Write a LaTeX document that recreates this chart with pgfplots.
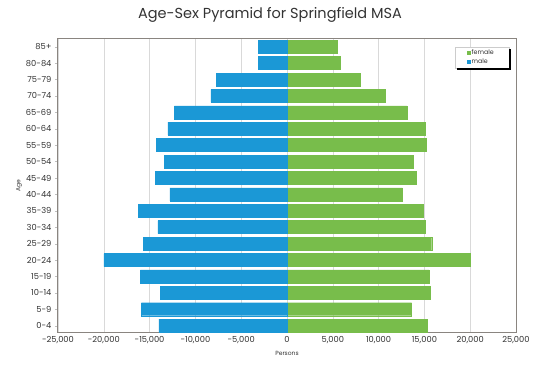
\documentclass[border=0pt]{standalone}
\usepackage{pgfplots}
\pgfplotsset{compat=1.18}
\usepackage{fontspec}
\setmainfont{Poppins}
\definecolor{mblue}{HTML}{1B98D6}
\definecolor{fgreen}{HTML}{78BD4B}
\definecolor{txt}{HTML}{333333}
\definecolor{axgray}{HTML}{8A8580}
\begin{document}
\begin{tikzpicture}
\path[use as bounding box] (-58pt,-34.3pt) rectangle (482pt,332.7pt);
\begin{axis}[
  at={(0,0)}, anchor=south west,
  scale only axis, width=458pt, height=294.7pt,
  xmin=-25000, xmax=25000,
  ymin=-0.43, ymax=17.53,
  xbar, bar width=13pt,
  xtick={-25000,-20000,...,25000},
  ytick={0,...,17},
  yticklabels={0-4,5-9,10-14,15-19,20-24,25-29,30-34,35-39,40-44,45-49,50-54,55-59,60-64,65-69,70-74,75-79,80-84,85+},
  /pgf/number format/.cd, assume math mode=true, 1000 sep={,}, fixed, /pgfplots/.cd,
  scaled x ticks=false,
  xmajorgrids, major grid style={draw=gray!30, line width=0.6pt},
  axis line style={draw=axgray, line width=1pt},
  tick style={draw=gray!50},
  major tick length=3pt,
  xtick style={draw=none},
  ytick pos=left,
  tick label style={font=\fontsize{8.3}{10}\selectfont, text=txt},
  xlabel={Persons}, ylabel={Age},
  xlabel style={font=\fontsize{6}{7}\selectfont, text=txt, yshift=-1pt},
  ylabel style={font=\fontsize{6}{7}\selectfont, text=txt, yshift=-3pt},
  title={Age-Sex Pyramid for Springfield MSA},
  title style={font=\fontsize{14.5}{17}\selectfont, text=txt, yshift=6pt, xshift=-17pt},
  legend style={name=leg, at={(0.9855,0.97)}, anchor=north east, draw=gray!40, fill=white,
    font=\fontsize{6.3}{7}\selectfont, text=txt, inner xsep=0pt, inner ysep=1.8pt,
    legend cell align=left, column sep=0.5pt, row sep=0.3pt},
  legend image code/.code={\path[draw=none,fill=none] (0pt,-2.1pt) rectangle (13pt,2.1pt); \fill[#1,draw=none] (11pt,-2.1pt) rectangle (15pt,2.1pt);},
  legend style={nodes={text width=37pt, inner xsep=0.5pt, inner ysep=1.2pt}},
]
\addplot[fill=fgreen, draw=fgreen!40!white, line width=0.4pt, bar shift=0pt, fgreen] coordinates {
(15300,0) (13600,1) (15600,2) (15500,3) (20000,4) (15800,5) (15100,6) (14900,7)
(12600,8) (14100,9) (13800,10) (15200,11) (15100,12) (13100,13) (10700,14) (8000,15) (5800,16) (5500,17)};
\addlegendentry{female}
\addplot[fill=mblue, draw=mblue!40!white, line width=0.4pt, bar shift=0pt, mblue] coordinates {
(-14000,0) (-15900,1) (-13800,2) (-16000,3) (-20000,4) (-15700,5) (-14100,6) (-16200,7)
(-12800,8) (-14400,9) (-13400,10) (-14300,11) (-13000,12) (-12300,13) (-8300,14) (-7700,15) (-3100,16) (-3100,17)};
\addlegendentry{male}
\end{axis}
\fill[black] ([yshift=-2pt]leg.north east) rectangle ([xshift=1.8pt,yshift=-1.8pt]leg.south east);
\fill[black] ([xshift=2pt]leg.south west) rectangle ([xshift=1.8pt,yshift=-1.8pt]leg.south east);
\end{tikzpicture}
\end{document}
